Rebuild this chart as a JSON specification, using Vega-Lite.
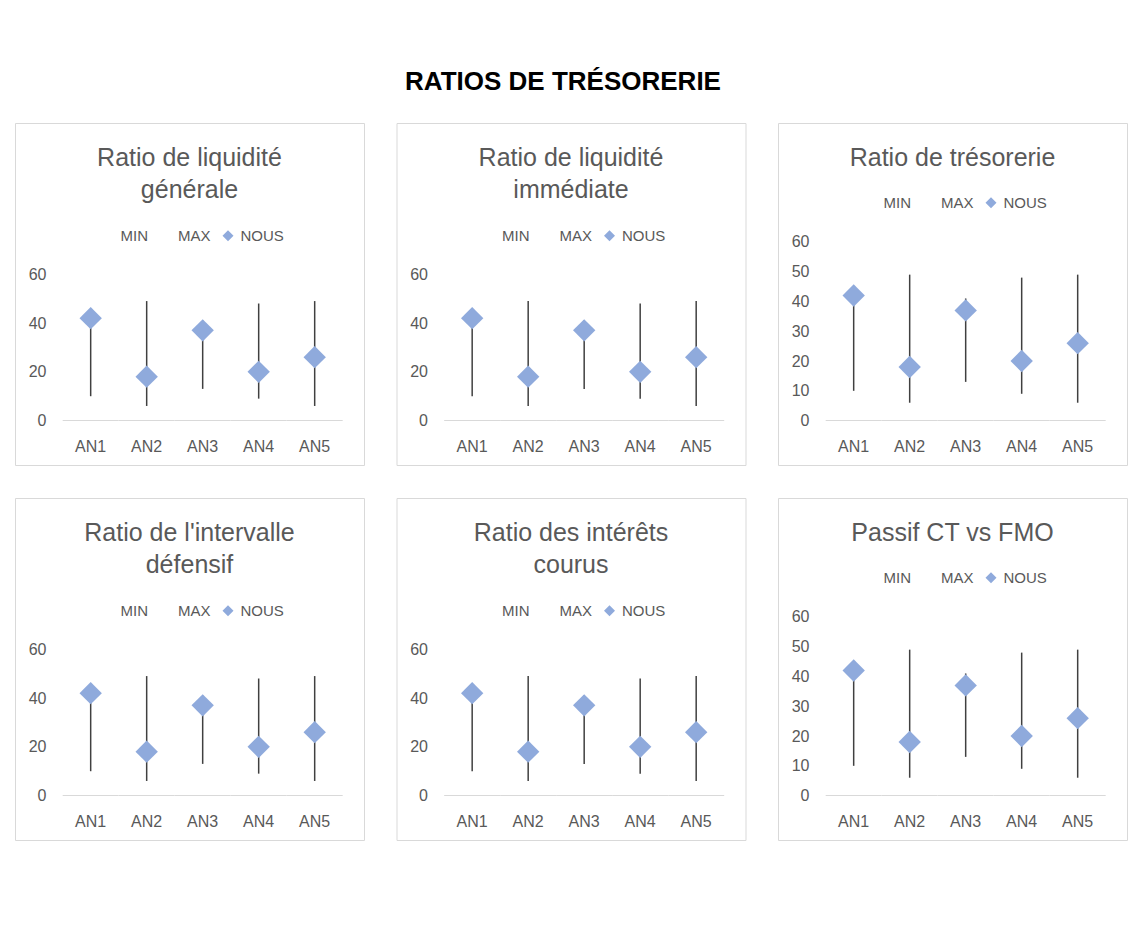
{
  "$schema": "https://vega.github.io/schema/vega-lite/v6.json",
  "autosize": {"type": "pad"},
  "padding": {"left": 14, "top": 68, "right": 0, "bottom": 0},
  "background": "#ffffff",
  "title": {
    "text": "RATIOS DE TRÉSORERIE",
    "fontSize": 26,
    "fontWeight": "bold",
    "color": "#000000",
    "anchor": "middle",
    "frame": "bounds",
    "baseline": "bottom",
    "offset": 2,
    "dx": -8
  },
  "datasets": {
    "ratios": [
      {"annee": "AN1", "min": 10, "max": 42, "nous": 42},
      {"annee": "AN2", "min": 6, "max": 49, "nous": 18},
      {"annee": "AN3", "min": 13, "max": 41, "nous": 37},
      {"annee": "AN4", "min": 9, "max": 48, "nous": 20},
      {"annee": "AN5", "min": 6, "max": 49, "nous": 26}
    ]
  },
  "columns": 3,
  "spacing": {"row": 31, "column": 30.5},
  "resolve": {
    "scale": {"color": "independent", "x": "independent", "y": "independent"},
    "legend": {"color": "independent"}
  },
  "concat": [
    {
      "width": 349, "height": 342,
      "title": {"text": ["Ratio de liquidité", "générale"], "offset": -80},
      "data": {"name": "ratios"},
      "encoding": {
        "x": {"field": "annee", "type": "nominal", "title": null,
          "scale": {"type": "band", "paddingInner": 0, "paddingOuter": 0.616, "align": 0.691},
          "axis": {"domain": false, "ticks": false, "grid": false, "offset": -44.5, "labelPadding": 18, "labelAngle": 0}}
      },
      "layer": [
        {"mark": {"type": "tick", "orient": "horizontal", "color": "#d9d9d9", "thickness": 1, "size": 56, "opacity": 1},
          "encoding": {"y": {"datum": 0, "type": "quantitative", "title": null,
            "scale": {"domain": [-18.2, 122], "nice": false, "zero": false},
            "axis": {"values": [0, 20, 40, 60], "domain": false, "ticks": false, "grid": false, "offset": -35, "labelPadding": 4}}}},
        {"mark": {"type": "rule", "color": "#404040", "strokeWidth": 1.5},
          "encoding": {"y": {"field": "min", "type": "quantitative", "title": null}, "y2": {"field": "max"}}},
        {"mark": {"type": "point", "shape": "diamond", "filled": true, "size": 500, "opacity": 1},
          "encoding": {"y": {"field": "nous", "type": "quantitative", "title": null},
            "color": {"datum": "NOUS", "scale": {"domain": ["MIN", "MAX", "NOUS"], "range": ["transparent", "transparent", "#8FAADC"]},
              "legend": {"legendX": 85.5, "legendY": 105}}}}
      ]
    },
    {
      "width": 349, "height": 342,
      "title": {"text": ["Ratio de liquidité", "immédiate"], "offset": -80},
      "data": {"name": "ratios"},
      "encoding": {
        "x": {"field": "annee", "type": "nominal", "title": null,
          "scale": {"type": "band", "paddingInner": 0, "paddingOuter": 0.616, "align": 0.691},
          "axis": {"domain": false, "ticks": false, "grid": false, "offset": -44.5, "labelPadding": 18, "labelAngle": 0}}
      },
      "layer": [
        {"mark": {"type": "tick", "orient": "horizontal", "color": "#d9d9d9", "thickness": 1, "size": 56, "opacity": 1},
          "encoding": {"y": {"datum": 0, "type": "quantitative", "title": null,
            "scale": {"domain": [-18.2, 122], "nice": false, "zero": false},
            "axis": {"values": [0, 20, 40, 60], "domain": false, "ticks": false, "grid": false, "offset": -35, "labelPadding": 4}}}},
        {"mark": {"type": "rule", "color": "#404040", "strokeWidth": 1.5},
          "encoding": {"y": {"field": "min", "type": "quantitative", "title": null}, "y2": {"field": "max"}}},
        {"mark": {"type": "point", "shape": "diamond", "filled": true, "size": 500, "opacity": 1},
          "encoding": {"y": {"field": "nous", "type": "quantitative", "title": null},
            "color": {"datum": "NOUS", "scale": {"domain": ["MIN", "MAX", "NOUS"], "range": ["transparent", "transparent", "#8FAADC"]},
              "legend": {"legendX": 85.5, "legendY": 105}}}}
      ]
    },
    {
      "width": 349, "height": 342,
      "title": {"text": "Ratio de trésorerie", "offset": -48},
      "data": {"name": "ratios"},
      "encoding": {
        "x": {"field": "annee", "type": "nominal", "title": null,
          "scale": {"type": "band", "paddingInner": 0, "paddingOuter": 0.616, "align": 0.691},
          "axis": {"domain": false, "ticks": false, "grid": false, "offset": -44.5, "labelPadding": 18, "labelAngle": 0}}
      },
      "layer": [
        {"mark": {"type": "tick", "orient": "horizontal", "color": "#d9d9d9", "thickness": 1, "size": 56, "opacity": 1},
          "encoding": {"y": {"datum": 0, "type": "quantitative", "title": null,
            "scale": {"domain": [-14.9, 99.9], "nice": false, "zero": false},
            "axis": {"values": [0, 10, 20, 30, 40, 50, 60], "domain": false, "ticks": false, "grid": false, "offset": -35, "labelPadding": 4}}}},
        {"mark": {"type": "rule", "color": "#404040", "strokeWidth": 1.5},
          "encoding": {"y": {"field": "min", "type": "quantitative", "title": null}, "y2": {"field": "max"}}},
        {"mark": {"type": "point", "shape": "diamond", "filled": true, "size": 500, "opacity": 1},
          "encoding": {"y": {"field": "nous", "type": "quantitative", "title": null},
            "color": {"datum": "NOUS", "scale": {"domain": ["MIN", "MAX", "NOUS"], "range": ["transparent", "transparent", "#8FAADC"]},
              "legend": {"legendX": 85.5, "legendY": 72}}}}
      ]
    },
    {
      "width": 349, "height": 342,
      "title": {"text": ["Ratio de l'intervalle", "défensif"], "offset": -80},
      "data": {"name": "ratios"},
      "encoding": {
        "x": {"field": "annee", "type": "nominal", "title": null,
          "scale": {"type": "band", "paddingInner": 0, "paddingOuter": 0.616, "align": 0.691},
          "axis": {"domain": false, "ticks": false, "grid": false, "offset": -44.5, "labelPadding": 18, "labelAngle": 0}}
      },
      "layer": [
        {"mark": {"type": "tick", "orient": "horizontal", "color": "#d9d9d9", "thickness": 1, "size": 56, "opacity": 1},
          "encoding": {"y": {"datum": 0, "type": "quantitative", "title": null,
            "scale": {"domain": [-18.2, 122], "nice": false, "zero": false},
            "axis": {"values": [0, 20, 40, 60], "domain": false, "ticks": false, "grid": false, "offset": -35, "labelPadding": 4}}}},
        {"mark": {"type": "rule", "color": "#404040", "strokeWidth": 1.5},
          "encoding": {"y": {"field": "min", "type": "quantitative", "title": null}, "y2": {"field": "max"}}},
        {"mark": {"type": "point", "shape": "diamond", "filled": true, "size": 500, "opacity": 1},
          "encoding": {"y": {"field": "nous", "type": "quantitative", "title": null},
            "color": {"datum": "NOUS", "scale": {"domain": ["MIN", "MAX", "NOUS"], "range": ["transparent", "transparent", "#8FAADC"]},
              "legend": {"legendX": 85.5, "legendY": 105}}}}
      ]
    },
    {
      "width": 349, "height": 342,
      "title": {"text": ["Ratio des intérêts", "courus"], "offset": -80},
      "data": {"name": "ratios"},
      "encoding": {
        "x": {"field": "annee", "type": "nominal", "title": null,
          "scale": {"type": "band", "paddingInner": 0, "paddingOuter": 0.616, "align": 0.691},
          "axis": {"domain": false, "ticks": false, "grid": false, "offset": -44.5, "labelPadding": 18, "labelAngle": 0}}
      },
      "layer": [
        {"mark": {"type": "tick", "orient": "horizontal", "color": "#d9d9d9", "thickness": 1, "size": 56, "opacity": 1},
          "encoding": {"y": {"datum": 0, "type": "quantitative", "title": null,
            "scale": {"domain": [-18.2, 122], "nice": false, "zero": false},
            "axis": {"values": [0, 20, 40, 60], "domain": false, "ticks": false, "grid": false, "offset": -35, "labelPadding": 4}}}},
        {"mark": {"type": "rule", "color": "#404040", "strokeWidth": 1.5},
          "encoding": {"y": {"field": "min", "type": "quantitative", "title": null}, "y2": {"field": "max"}}},
        {"mark": {"type": "point", "shape": "diamond", "filled": true, "size": 500, "opacity": 1},
          "encoding": {"y": {"field": "nous", "type": "quantitative", "title": null},
            "color": {"datum": "NOUS", "scale": {"domain": ["MIN", "MAX", "NOUS"], "range": ["transparent", "transparent", "#8FAADC"]},
              "legend": {"legendX": 85.5, "legendY": 105}}}}
      ]
    },
    {
      "width": 349, "height": 342,
      "title": {"text": "Passif CT vs FMO", "offset": -48},
      "data": {"name": "ratios"},
      "encoding": {
        "x": {"field": "annee", "type": "nominal", "title": null,
          "scale": {"type": "band", "paddingInner": 0, "paddingOuter": 0.616, "align": 0.691},
          "axis": {"domain": false, "ticks": false, "grid": false, "offset": -44.5, "labelPadding": 18, "labelAngle": 0}}
      },
      "layer": [
        {"mark": {"type": "tick", "orient": "horizontal", "color": "#d9d9d9", "thickness": 1, "size": 56, "opacity": 1},
          "encoding": {"y": {"datum": 0, "type": "quantitative", "title": null,
            "scale": {"domain": [-14.9, 99.9], "nice": false, "zero": false},
            "axis": {"values": [0, 10, 20, 30, 40, 50, 60], "domain": false, "ticks": false, "grid": false, "offset": -35, "labelPadding": 4}}}},
        {"mark": {"type": "rule", "color": "#404040", "strokeWidth": 1.5},
          "encoding": {"y": {"field": "min", "type": "quantitative", "title": null}, "y2": {"field": "max"}}},
        {"mark": {"type": "point", "shape": "diamond", "filled": true, "size": 500, "opacity": 1},
          "encoding": {"y": {"field": "nous", "type": "quantitative", "title": null},
            "color": {"datum": "NOUS", "scale": {"domain": ["MIN", "MAX", "NOUS"], "range": ["transparent", "transparent", "#8FAADC"]},
              "legend": {"legendX": 85.5, "legendY": 72}}}}
      ]
    }
  ],
  "config": {
    "font": "Liberation Sans",
    "view": {"stroke": "#d9d9d9", "strokeWidth": 1},
    "title": {"fontSize": 25, "fontWeight": "normal", "color": "#595959", "anchor": "middle", "frame": "group", "lineHeight": 32.5, "baseline": "bottom"},
    "axis": {"labelFontSize": 16, "labelColor": "#595959", "labelFont": "Liberation Sans"},
    "legend": {
      "orient": "none", "direction": "horizontal", "title": null,
      "symbolType": "diamond", "symbolSize": 121, "symbolStrokeWidth": 0,
      "labelFontSize": 15, "labelColor": "#595959", "labelOffset": 5,
      "columnPadding": 9.5, "padding": 0
    }
  }
}
